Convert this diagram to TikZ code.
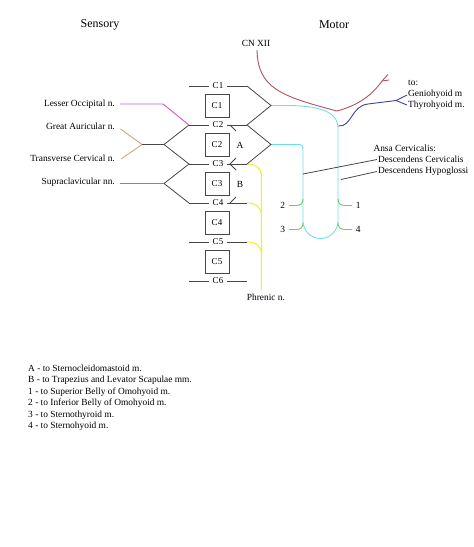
\documentclass[tikz,border=0pt]{standalone}
\usepackage{fontspec}
\setmainfont{Liberation Serif}
\definecolor{nervegray}{RGB}{70,70,70}
\definecolor{sensmag}{RGB}{200,90,200}
\definecolor{senstan}{RGB}{200,170,130}
\definecolor{cyanline}{RGB}{110,225,225}
\definecolor{yelline}{RGB}{238,238,70}
\definecolor{redline}{RGB}{176,82,96}
\definecolor{blueline}{RGB}{64,64,160}
\definecolor{greenline}{RGB}{110,200,110}
\begin{document}
\begin{tikzpicture}[x=1pt,y=-1pt,
  nerve/.style={draw=nervegray, line width=0.8pt},
  colline/.style={line width=0.9pt},
  lbl/.style={font=\fontsize{9.4}{11}\selectfont, inner sep=0pt},
  head/.style={font=\fontsize{12}{14}\selectfont, inner sep=0pt},
  seglbl/.style={fill=white, inner xsep=3.5pt, inner ysep=0.5pt, font=\fontsize{9}{10}\selectfont},
  vbox/.style={draw=nervegray, line width=0.8pt, minimum width=24pt, minimum height=23pt, inner sep=0pt, font=\fontsize{9}{10}\selectfont}]
\useasboundingbox (0,0) rectangle (474,547);
% headers
\node[head] (hs) at (100,24.5) {Sensory};
\node[head] (hm) at (334,24.5) {Motor};
\node[lbl] (cn) at (256,43) {CN XII};
% cyan (ansa) drawn first
\coordinate (RD1) at (271,105.5);
\coordinate (RD2) at (271,144.5);
\draw[colline, cyanline] (RD2) -- (296,144.5) .. controls (303,144.5) .. (303,151.5) -- (303,221)
  arc[start angle=180, end angle=0, radius=17.5] -- (338,128)
  .. controls (338,110) and (315,106) .. (290,105.5) -- (RD1);
% yellow phrenic
\coordinate (R3y) at (247,164);
\coordinate (R4y) at (247,203);
\coordinate (R5y) at (247,242);
\coordinate (PhE) at (261.5,290);
\draw[line width=1.1pt, yelline] (R3y) .. controls (256,164) and (261.5,168) .. (261.5,177) -- (PhE);
\draw[line width=1.1pt, yelline] (R4y) .. controls (256,203) and (261.5,207) .. (261.5,216);
\draw[line width=1.1pt, yelline] (R5y) .. controls (256,242) and (261.5,246) .. (261.5,255);
% segment lines and boxes
\foreach \k in {1,...,6}{
  \pgfmathsetmacro{\yy}{86+39*(\k-1)}
  \coordinate (L\k) at (189,\yy);
  \coordinate (R\k) at (247,\yy);
  \draw[nerve] (L\k) -- (R\k) node[midway, seglbl] (cl\k) {C\k};
}
\foreach \k in {1,...,5}{
  \pgfmathsetmacro{\yy}{105.5+39*(\k-1)}
  \node[vbox] (b\k) at (217,\yy) {C\k};
}
% right diamonds
\draw[nerve] (R1) -- (RD1) -- (R2) -- (RD2) -- (R3);
% left diamonds
\coordinate (LD1) at (164,144.5);
\coordinate (LD2) at (164,183.5);
\draw[nerve] (L2) -- (LD1) -- (L3) -- (LD2) -- (L4);
% A and B branches
\node[lbl] (A) at (240,145) {A};
\node[lbl] (B) at (240,184) {B};
\coordinate (tA1s) at (230,125); \coordinate (tA1e) at (236,131);
\coordinate (tA2s) at (230,164); \coordinate (tA2e) at (236,158);
\coordinate (tB1s) at (230,164); \coordinate (tB1e) at (236,170);
\coordinate (tB2s) at (230,203); \coordinate (tB2e) at (236,197);
\draw[nerve] (tA1s) -- (tA1e);
\draw[nerve] (tA2s) -- (tA2e);
\draw[nerve] (tB1s) -- (tB1e);
\draw[nerve] (tB2s) -- (tB2e);
% sensory labels
\node[lbl, anchor=base east] (lo) at (115,106) {Lesser Occipital n.};
\node[lbl, anchor=base east] (ga) at (115,129) {Great Auricular n.};
\node[lbl, anchor=base east] (tc) at (115,161) {Transverse Cervical n.};
\node[lbl, anchor=base east] (sc) at (115,184.3) {Supraclavicular nn.};
\coordinate (loS) at (120,104); \coordinate (loK) at (163,104);
\draw[colline, sensmag] (loS) -- (loK) -- (L2);
\coordinate (gaS) at (120.5,129); \coordinate (tcS) at (121,159); \coordinate (GJ) at (142,144.5);
\draw[colline, senstan] (gaS) -- (GJ) -- (tcS);
\draw[nerve] (GJ) -- (LD1);
\coordinate (scS) at (120,183.5);
\draw[colline, sensmag] (scS) -- (LD2);
% phrenic label
\node[lbl, anchor=base west] (ph) at (246.7,300.3) {Phrenic n.};
% red CN XII
\coordinate (cnS) at (257,50);
\coordinate (cnB) at (337,111);
\coordinate (cnF) at (382,81);
\coordinate (cnT1) at (388,74.5);
\coordinate (cnT2) at (389,80);
\draw[colline, redline] (cnS) .. controls (258,88) and (280,96) .. (cnB)
  .. controls (355,106) and (370,98) .. (cnF) -- (cnT1);
\draw[colline, redline] (cnF) -- (cnT2);
% blue to geniohyoid / thyrohyoid
\coordinate (blS) at (338.5,126);
\coordinate (blF) at (396,100.5);
\coordinate (blT1) at (407,95);
\coordinate (blT2) at (407,105);
\draw[colline, blueline] (blS) .. controls (352,127) and (351,106) .. (368,104) -- (blF) -- (blT1);
\draw[colline, blueline] (blF) -- (blT2);
\node[lbl, anchor=base west] (to) at (408,85.6) {to:};
\node[lbl, anchor=base west] (gh) at (408,96.6) {Geniohyoid m};
\node[lbl, anchor=base west] (th) at (408,107.3) {Thyrohyoid m.};
% ansa labels
\node[lbl, anchor=base west] (ansa) at (373.3,151.6) {Ansa Cervicalis:};
\node[lbl, anchor=base west] (dc) at (378,162.3) {Descendens Cervicalis};
\node[lbl, anchor=base west] (dh) at (378,173.3) {Descendens Hypoglossi};
\coordinate (dcP) at (303,174); \coordinate (dcL) at (377,159.5);
\coordinate (dhP) at (341,179.5); \coordinate (dhL) at (377,171.5);
\draw[nerve] (dcP) -- (dcL);
\draw[nerve] (dhP) -- (dhL);
% green numbered branches
\node[lbl] (n2) at (282.7,205) {2};
\node[lbl] (n1) at (358.3,205) {1};
\node[lbl] (n3) at (282.7,229) {3};
\node[lbl] (n4) at (358.3,229) {4};
\coordinate (g2a) at (303,199); \coordinate (g2b) at (289,205.5);
\coordinate (g1a) at (338,199); \coordinate (g1b) at (352,205.5);
\coordinate (g3a) at (303,223); \coordinate (g3b) at (289,229.5);
\coordinate (g4a) at (338,223); \coordinate (g4b) at (352,229.5);
\draw[colline, greenline] (g2a) .. controls (303,203) and (301,205.5) .. (296,205.5) -- (g2b);
\draw[colline, greenline] (g1a) .. controls (338,203) and (340,205.5) .. (345,205.5) -- (g1b);
\draw[colline, greenline] (g3a) .. controls (303,227) and (301,229.5) .. (296,229.5) -- (g3b);
\draw[colline, greenline] (g4a) .. controls (338,227) and (340,229.5) .. (345,229.5) -- (g4b);
% legend
\node[lbl, anchor=base west] (lg1) at (28,371.5) {A - to Sternocleidomastoid m.};
\node[lbl, anchor=base west] (lg2) at (28,382.9) {B - to Trapezius and Levator Scapulae mm.};
\node[lbl, anchor=base west] (lg3) at (28,394.3) {1 - to Superior Belly of Omohyoid m.};
\node[lbl, anchor=base west] (lg4) at (28,405.7) {2 - to Inferior Belly of Omohyoid m.};
\node[lbl, anchor=base west] (lg5) at (28,417.1) {3 - to Sternothyroid m.};
\node[lbl, anchor=base west] (lg6) at (28,428.5) {4 - to Sternohyoid m.};
\end{tikzpicture}
\end{document}
